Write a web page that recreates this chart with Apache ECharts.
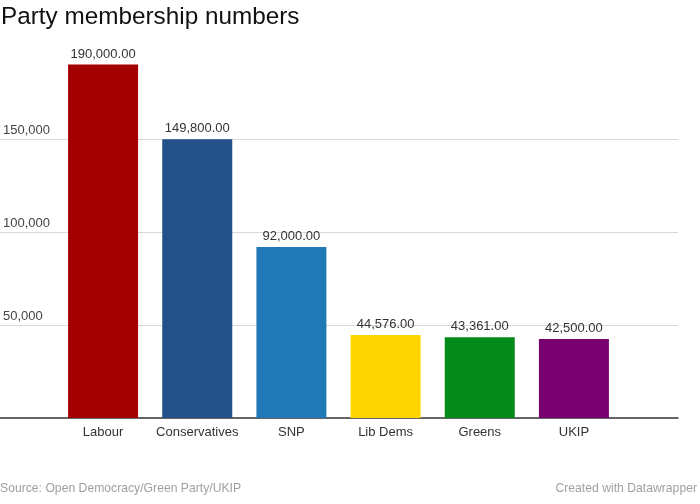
<!DOCTYPE html>
<html>
<head>
<meta charset="utf-8">
<script src="https://cdn.jsdelivr.net/npm/echarts@6/dist/echarts.min.js"></script>
<style>
html,body{margin:0;padding:0;background:#fff;}
#chart{width:700px;height:504px;}
</style>
</head>
<body>
<div id="chart"></div>
<script>
const categories = ['Labour', 'Conservatives', 'SNP', 'Lib Dems', 'Greens', 'UKIP'];
const members = [190000, 149800, 92000, 44576, 43361, 42500];
const barColors = ['#a40000', '#245089', '#2178b6', '#ffd500', '#038a1b', '#780071'];
const yTicks = [0, 50000, 100000, 150000, 200000];

const FONT = '"Liberation Sans", Arial, Helvetica, sans-serif';
const fmt2 = v => new Intl.NumberFormat('en-US', {minimumFractionDigits: 2, maximumFractionDigits: 2}).format(v);
const fmt0 = v => new Intl.NumberFormat('en-US').format(v);

const yMin = yTicks[0], yMax = yTicks[yTicks.length - 1], yStep = yTicks[1] - yTicks[0];

const chart = echarts.init(document.getElementById('chart'), null, {renderer: 'canvas'});
chart.setOption({
  animation: false,
  textStyle: {fontFamily: FONT},
  title: [
    {text: 'Party membership numbers', left: 1, top: 5, padding: 0,
     textStyle: {fontFamily: FONT, fontSize: 24.3, fontWeight: 'normal', color: '#111'}},
    {text: 'Source: Open Democracy/Green Party/UKIP', left: 0, top: 483, padding: 0,
     textStyle: {fontFamily: FONT, fontSize: 12.2, fontWeight: 'normal', color: '#a0a0a0'}},
    {text: 'Created with Datawrapper', right: 3, top: 483, padding: 0,
     textStyle: {fontFamily: FONT, fontSize: 12.2, fontWeight: 'normal', color: '#a0a0a0'}}
  ],
  grid: [
    {left: 0, right: 22, top: 46, bottom: 86},
    {left: 56, right: 79, top: 46, bottom: 86}
  ],
  xAxis: [
    {gridIndex: 0, type: 'value', min: 0, max: 1,
     axisLine: {show: true, onZero: false, lineStyle: {color: '#333', width: 1.5}},
     axisTick: {show: false}, axisLabel: {show: false}, splitLine: {show: false}},
    {gridIndex: 1, type: 'category', data: categories,
     axisLine: {show: false}, axisTick: {show: false},
     axisLabel: {interval: 0, color: '#333', fontSize: 13, fontFamily: FONT, margin: 8}}
  ],
  yAxis: [
    {gridIndex: 0, type: 'value', min: yMin, max: yMax, interval: yStep,
     axisLine: {show: false}, axisTick: {show: false},
     splitLine: {show: true, showMinLine: false, showMaxLine: false, lineStyle: {color: '#d9d9d9', width: 1}},
     axisLabel: {inside: true, margin: 3, align: 'left', verticalAlign: 'bottom',
                 color: '#444', fontSize: 13, fontFamily: FONT, padding: [0, 0, 2, 0],
                 formatter: v => (v === yMin || v === yMax) ? '' : fmt0(v)}},
    {gridIndex: 1, type: 'value', min: yMin, max: yMax, interval: yStep, show: false,
     splitLine: {show: false}}
  ],
  series: [{
    type: 'bar',
    xAxisIndex: 1, yAxisIndex: 1,
    barWidth: 70,
    data: members.map((v, i) => ({value: v, itemStyle: {color: barColors[i]}})),
    label: {show: true, position: 'top', distance: 4, color: '#333', fontSize: 13,
            fontFamily: FONT, formatter: p => fmt2(p.value)}
  }]
});
</script>
</body>
</html>
